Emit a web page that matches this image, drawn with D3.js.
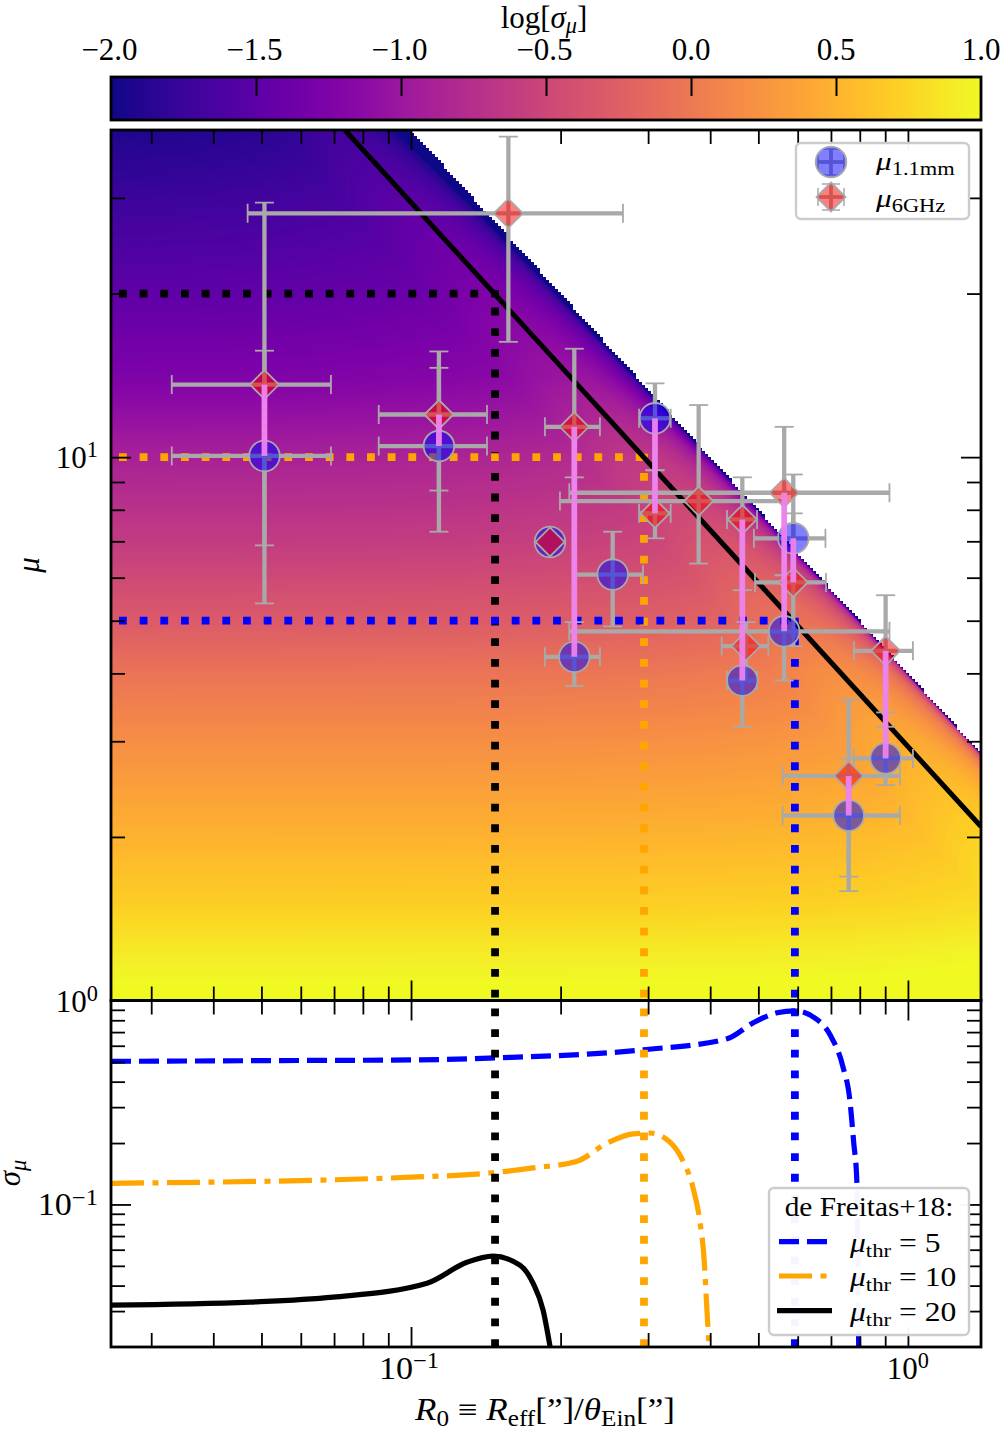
<!DOCTYPE html>
<html>
<head>
  <meta charset="utf-8">
  <title>Magnification and its scatter against source size</title>
  <script src="https://d3js.org/d3.v7.min.js"></script>
  <style>
    body { margin: 0; background: #fff; }
    text { font-family: "Liberation Serif", serif; fill: #000; }
  </style>
</head>
<body>
  <svg width="1000" height="1432"></svg>
  <script>
    // 1.1mm points
    const mmR0   = [0.0507, 0.1138, 0.1904, 0.2131, 0.2546, 0.3097, 0.4642, 0.5636, 0.5878, 0.7600, 0.9018];
    const mmR0Lo = [0.0330, 0.0861, null,   0.1860, 0.2131, 0.2877, 0.4323, 0.2082, 0.4898, 0.5596, 0.7786];
    const mmR0Hi = [0.0690, 0.1422, null,   0.2400, 0.2930, 0.3331, 0.4969, 0.9180, 0.6823, 0.9636, 1.0235];
    const mmMu   = [10.05, 10.48, 6.98, 4.29, 6.08, 11.79, 3.88, 4.78, 7.09, 2.19, 2.79];
    const mmMuLo = [6.88, 8.68, null, 3.79, 4.88, 9.46, 3.19, 3.88, 5.90, 1.59, 2.49];
    const mmMuHi = [15.7, 14.6, null, 9.18, 7.29, 13.67, 4.49, 6.06, 9.29, 2.79, 3.39];

    // 6GHz points
    const ghzR0   = [0.0507, 0.1138, 0.1570, 0.1904, 0.2131, 0.3097, 0.3792, 0.4642, 0.4721, 0.5636, 0.5878, 0.7600, 0.9018];
    const ghzR0Lo = [0.0330, 0.0861, 0.0469, null,   0.1860, 0.2877, 0.1994, 0.4323, 0.4218, 0.2082, 0.4923, 0.5596, 0.7786];
    const ghzR0Hi = [0.0690, 0.1422, 0.2670, null,   0.2400, 0.3331, 0.5655, 0.4969, 0.5236, 0.9180, 0.6840, 0.9636, 1.0235];
    const ghzMu   = [13.6, 11.98, 28.1, 6.98, 11.37, 7.88, 8.30, 7.68, 4.49, 8.60, 5.88, 2.59, 4.40];
    const ghzMuLo = [5.38, 7.29, 16.3, null, 4.97, 7.09, 6.37, 5.69, 3.88, 6.06, 4.49, 1.69, 3.19];
    const ghzMuHi = [29.4, 15.65, 38.9, null, 15.83, 9.46, 12.47, 9.18, 4.97, 11.37, 7.88, 3.58, 5.57];

    // de Freitas+18 curves, sigma against R0
    const thr5R0  = [0.0249, 0.0598, 0.1, 0.1476, 0.293, 0.4325, 0.488, 0.545, 0.593, 0.644, 0.697, 0.740, 0.764, 0.778, 0.789, 0.796];
    const thr5Sig = [0.503, 0.508, 0.511, 0.523, 0.573, 0.649, 0.777, 0.870, 0.890, 0.832, 0.679, 0.473, 0.325, 0.200, 0.132, 0.02];
    const thr10R0  = [0.0249, 0.1, 0.144, 0.176, 0.216, 0.248, 0.280, 0.303, 0.332, 0.352, 0.369, 0.381, 0.389, 0.394, 0.398];
    const thr10Sig = [0.127, 0.136, 0.1426, 0.151, 0.163, 0.200, 0.222, 0.224, 0.202, 0.165, 0.122, 0.0838, 0.0533, 0.0303, 0.02];
    const thr20R0  = [0.0249, 0.0474, 0.0697, 0.1077, 0.1296, 0.1462, 0.1656, 0.176, 0.1844, 0.1905];
    const thr20Sig = [0.0321, 0.0332, 0.0351, 0.0411, 0.0521, 0.0558, 0.0504, 0.0411, 0.0303, 0.02];

    // dotted guides: threshold mu and the R0 where its sigma peaks
    const dropMu = [20, 10, 5];
    const dropR0 = [0.1476, 0.2943, 0.5923];
    const dropColor = ["#000000", "#ffa500", "#0000ff"];

    // solid black line in the top panel
    const peakR0 = [0.0736, 1.403];
    const peakMu = [40, 2.09];

    // heat map lookup: log sigma at small R0 per mu, then an offset along u = mu * R0
    const baseMu  = [1, 1.25, 1.5, 2, 3, 4, 5, 7, 10, 14, 20, 30, 40];
    const baseLog = [1.05, 0.88, 0.70, 0.49, 0.19, -0.05, -0.30, -0.62, -0.895, -1.25, -1.494, -1.76, -1.95];
    const bumpU   = [0.02, 0.5, 1.0, 1.44, 1.76, 2.16, 2.46, 2.75, 2.97, 3.25, 3.5, 3.7, 3.82, 3.89, 3.945, 3.97, 3.985, 4.0];
    const bumpOff = [0, 0.007, 0.025, 0.05, 0.074, 0.108, 0.193, 0.238, 0.247, 0.21, 0.12, -0.025, -0.19, -0.39, -0.65, -1.1, -1.7, -3];

    // tick lists
    const xMinor = [0.03, 0.04, 0.05, 0.06, 0.07, 0.08, 0.09, 0.2, 0.3, 0.4, 0.5, 0.6, 0.7, 0.8, 0.9];
    const xMajor = [0.1, 1];
    const muMinor = [2, 3, 4, 5, 6, 7, 8, 9, 20, 30];
    const sigMinor = [0.03, 0.04, 0.05, 0.06, 0.07, 0.08, 0.09, 0.2, 0.3, 0.4, 0.5, 0.6, 0.7, 0.8, 0.9];
    const cbTicks = [-2, -1.5, -1, -0.5, 0, 0.5, 1];

    const svg = d3.select("svg");
    const L = 111, R = 981;
    const cbTop = 77, cbBot = 120, topY = 130, midY = 1000.5, botY = 1347;

    const x = d3.scaleLog().domain([0.0249, 1.403]).range([L, R]);
    const y = d3.scaleLog().domain([1, 40]).range([midY, topY]);
    const ySig = d3.scaleLog().domain([0.02, 1]).range([botY, midY]);
    const cb = d3.scaleLinear().domain([-2, 1]).range([L, R]);

    const defs = svg.append("defs");
    defs.append("clipPath").attr("id", "clipTop").append("rect")
      .attr("x", L).attr("y", topY).attr("width", R - L).attr("height", midY - topY);
    defs.append("clipPath").attr("id", "clipBot").append("rect")
      .attr("x", L).attr("y", midY).attr("width", R - L).attr("height", botY - midY);

    // text with italics, subscripts and superscripts as tspans
    // parts: [text, style] where style is "i", "s" (subscript), "si", "^" or nothing
    // sx stretches the glyphs sideways, the serif is narrower than the original type
    function math(g, px, py, size, parts, opts) {
      const o = opts || {};
      const t = g.append("text")
        .attr("font-size", size)
        .attr("text-anchor", o.anchor || "middle")
        .attr("transform", `translate(${px},${py})` + (o.rotate ? " rotate(-90)" : "") + ` scale(${o.sx || 1},1)`);
      let shift = 0;
      parts.forEach(p => {
        const style = p[1] || "";
        const sub = style.includes("s"), sup = style.includes("^");
        const target = sub ? size * 0.18 : sup ? -size * 0.35 : 0;
        t.append("tspan")
          .attr("dy", target - shift)
          .attr("font-size", sub || sup ? size * 0.72 : size)
          .attr("font-style", style.includes("i") ? "italic" : "normal")
          .text(p[0]);
        shift = target;
      });
      return t;
    }

    // colour bar
    const grad = defs.append("linearGradient").attr("id", "plasma");
    d3.range(0, 1.001, 0.02).forEach(t => {
      grad.append("stop").attr("offset", t).attr("stop-color", d3.interpolatePlasma(t));
    });
    svg.append("rect").attr("x", L).attr("y", cbTop).attr("width", R - L).attr("height", cbBot - cbTop)
      .attr("fill", "url(#plasma)");
    svg.append("g").attr("transform", `translate(0,${cbTop})`)
      .call(d3.axisTop(cb).tickValues(cbTicks.slice(1, -1)).tickSize(-19).tickFormat(""))
      .call(g => g.select(".domain").remove())
      .call(g => g.selectAll("line").attr("stroke-width", 2));
    svg.append("rect").attr("x", L).attr("y", cbTop).attr("width", R - L).attr("height", cbBot - cbTop)
      .attr("fill", "none").attr("stroke", "#000").attr("stroke-width", 2.8);
    cbTicks.forEach(t => {
      // the minus of the original is wider, a thin space stands in for the difference
      const label = d3.format(".1f")(t).replace("-", "\u2212\u2009");
      math(svg, cb(t) - (t < 0 ? 1.5 : 0), 60, 31, [[label]]);
    });
    math(svg, 544, 27.7, 31, [["log["], ["\u03C3", "i"], ["\u03BC", "si"], ["]"]]);

    // heat map: one canvas pixel per screen pixel, edge snapped to the mesh of the original
    const logMu = d3.scaleLinear().domain(baseMu.map(Math.log10)).range(baseLog);
    const off = d3.scaleLinear().domain(bumpU).range(bumpOff).clamp(true);
    const W = R - L, H = Math.round(midY - topY);
    const canvas = document.createElement("canvas");
    canvas.width = W; canvas.height = H;
    const ctx = canvas.getContext("2d");
    const img = ctx.createImageData(W, H);
    for (let j = 0; j < H; j++) {
      for (let i = 0; i < W; i++) {
        const r = x.invert(L + i + 0.5), m = y.invert(topY + j + 0.5);
        const rs = x.invert(L + Math.floor(i / 3) * 3 + 1.5), ms = y.invert(topY + Math.floor(j / 3) * 3 + 1.5);
        if (rs * ms > 4) continue;
        const v = logMu(Math.log10(m)) + off(Math.min(r * m, 4));
        const c = d3.rgb(d3.interpolatePlasma(Math.max(0, Math.min(1, (v + 2) / 3))));
        const k = (j * W + i) * 4;
        img.data[k] = c.r; img.data[k + 1] = c.g; img.data[k + 2] = c.b; img.data[k + 3] = 255;
      }
    }
    ctx.putImageData(img, 0, 0);
    svg.append("image").attr("x", L).attr("y", topY).attr("width", W).attr("height", H)
      .attr("href", canvas.toDataURL());

    const dash = "7.8 12.87";
    const upper = svg.append("g").attr("clip-path", "url(#clipTop)");
    const lower = svg.append("g").attr("clip-path", "url(#clipBot)");

    // dotted guides, top panel
    dropMu.forEach((m, k) => {
      upper.append("line").attr("x1", L).attr("x2", x(dropR0[k])).attr("y1", y(m)).attr("y2", y(m))
        .attr("stroke", dropColor[k]).attr("stroke-width", 7.8)
        .attr("stroke-dasharray", dash).attr("stroke-dashoffset", 12.67);
      upper.append("line").attr("x1", x(dropR0[k])).attr("x2", x(dropR0[k])).attr("y1", y(1)).attr("y2", y(m) - 3.5)
        .attr("stroke", dropColor[k]).attr("stroke-width", 7.8)
        .attr("stroke-dasharray", dash).attr("stroke-dashoffset", 17.67);
    });

    // black line
    upper.append("line").attr("x1", x(peakR0[0])).attr("y1", y(peakMu[0]))
      .attr("x2", x(peakR0[1])).attr("y2", y(peakMu[1]))
      .attr("stroke", "#000").attr("stroke-width", 5);

    // error bars
    const gray = "#a9a9a9";
    function errorBars(g, rs, rLo, rHi, ms, mLo, mHi) {
      rs.forEach((r, k) => {
        if (rLo[k] === null) return;
        const px = x(r), py = y(ms[k]);
        g.append("line").attr("x1", x(rLo[k])).attr("x2", x(rHi[k])).attr("y1", py).attr("y2", py)
          .attr("stroke", gray).attr("stroke-width", 4.3);
        g.append("line").attr("x1", px).attr("x2", px).attr("y1", y(mLo[k])).attr("y2", y(mHi[k]))
          .attr("stroke", gray).attr("stroke-width", 4.3);
        [rLo[k], rHi[k]].forEach(e => {
          g.append("line").attr("x1", x(e)).attr("x2", x(e)).attr("y1", py - 9.5).attr("y2", py + 9.5)
            .attr("stroke", gray).attr("stroke-width", 1.8);
        });
        [mLo[k], mHi[k]].forEach(e => {
          g.append("line").attr("x1", px - 9.5).attr("x2", px + 9.5).attr("y1", y(e)).attr("y2", y(e))
            .attr("stroke", gray).attr("stroke-width", 1.8);
        });
      });
    }
    errorBars(upper, mmR0, mmR0Lo, mmR0Hi, mmMu, mmMuLo, mmMuHi);
    errorBars(upper, ghzR0, ghzR0Lo, ghzR0Hi, ghzMu, ghzMuLo, ghzMuHi);

    // markers
    const diamond = "M0,-14.5L14.5,0L0,14.5L-14.5,0Z";
    function circleMark(g, px, py) {
      g.append("circle").attr("cx", px).attr("cy", py).attr("r", 15.3)
        .attr("fill", "rgba(0,0,255,0.5)").attr("stroke", gray).attr("stroke-width", 1.8);
    }
    function diamondMark(g, px, py) {
      g.append("path").attr("d", diamond).attr("transform", `translate(${px},${py})`)
        .attr("fill", "rgba(255,0,0,0.5)").attr("stroke", gray).attr("stroke-width", 1.8);
    }
    mmR0.forEach((r, k) => circleMark(upper, x(r), y(mmMu[k])));
    ghzR0.forEach((r, k) => diamondMark(upper, x(r), y(ghzMu[k])));

    // violet links between the two bands of one source
    mmR0.forEach((r, k) => {
      const g = ghzR0.indexOf(r);
      if (g < 0) return;
      upper.append("line").attr("x1", x(r)).attr("x2", x(r)).attr("y1", y(ghzMu[g])).attr("y2", y(mmMu[k]))
        .attr("stroke", "#ee82ee").attr("stroke-opacity", 0.95).attr("stroke-width", 5.8);
    });

    // lower panel curves
    const curve = d3.line().x(d => x(d[0])).y(d => ySig(d[1])).curve(d3.curveMonotoneX);
    const styles = [
      { r: thr5R0, s: thr5Sig, c: "#0000ff", d: "20 8" },
      { r: thr10R0, s: thr10Sig, c: "#ffa500", d: "33 8.5 6 8.5" },
      { r: thr20R0, s: thr20Sig, c: "#000000", d: null }
    ];
    styles.forEach(o => {
      lower.append("path").attr("d", curve(o.r.map((v, i) => [v, o.s[i]])))
        .attr("fill", "none").attr("stroke", o.c).attr("stroke-width", 5.2)
        .attr("stroke-dasharray", o.d);
    });
    dropMu.forEach((m, k) => {
      lower.append("line").attr("x1", x(dropR0[k])).attr("x2", x(dropR0[k])).attr("y1", botY).attr("y2", midY)
        .attr("stroke", dropColor[k]).attr("stroke-width", 7.8).attr("stroke-dasharray", dash);
    });

    // axes and frames
    function ticks(axis, scale, pos, values, len) {
      svg.append("g").attr("transform", pos)
        .call(axis(scale).tickValues(values).tickSize(-len).tickFormat(""))
        .call(g => g.select(".domain").remove())
        .call(g => g.selectAll("line").attr("stroke-width", 1.8).attr("stroke", "#000"));
    }
    [[topY, midY, y, muMinor, [10]], [midY, botY, ySig, sigMinor, [0.1]]].forEach(p => {
      ticks(d3.axisTop, x, `translate(0,${p[0]})`, xMinor, 14);
      ticks(d3.axisTop, x, `translate(0,${p[0]})`, xMajor, 20);
      ticks(d3.axisBottom, x, `translate(0,${p[1]})`, xMinor, 14);
      ticks(d3.axisBottom, x, `translate(0,${p[1]})`, xMajor, 20);
      ticks(d3.axisLeft, p[2], `translate(${L},0)`, p[3], 14);
      ticks(d3.axisLeft, p[2], `translate(${L},0)`, p[4], 20);
      ticks(d3.axisRight, p[2], `translate(${R},0)`, p[3], 14);
      ticks(d3.axisRight, p[2], `translate(${R},0)`, p[4], 20);
      svg.append("rect").attr("x", L).attr("y", p[0]).attr("width", R - L).attr("height", p[1] - p[0])
        .attr("fill", "none").attr("stroke", "#000").attr("stroke-width", 2.8);
    });

    // tick labels, powers of ten
    math(svg, 98, y(10) + 11, 31, [["10"], ["1", "^"]], { anchor: "end" });
    math(svg, 98, y(1) + 11.5, 31, [["10"], ["0", "^"]], { anchor: "end" });
    math(svg, 98, ySig(0.1) + 11, 31, [["10"], ["\u22121", "^"]], { anchor: "end", sx: 1.1 });
    math(svg, x(0.1) - 2, 1379, 31, [["10"], ["\u22121", "^"]], { sx: 1.1 });
    math(svg, x(1), 1379, 31, [["10"], ["0", "^"]]);

    // axis labels
    math(svg, 39, 565, 31, [["\u03BC", "i"]], { rotate: true });
    math(svg, 20, 1173, 31, [["\u03C3", "i"], ["\u03BC", "si"]], { rotate: true });
    math(svg, 545, 1420, 31, [["R", "i"], ["0", "s"], [" \u2261 "], ["R", "i"], ["eff", "s"], ["[\u201D]/"], ["\u03B8", "i"], ["Ein", "s"], ["[\u201D]"]], { sx: 1.13 });

    // legend, markers
    const legendFill = "rgba(255,255,255,0.96)";
    const leg1 = svg.append("g");
    leg1.append("rect").attr("x", 796).attr("y", 143).attr("width", 173).attr("height", 76).attr("rx", 5)
      .attr("fill", legendFill).attr("stroke", "#cccccc").attr("stroke-width", 2.4);
    [[831, 162], [831, 197]].forEach(p => {
      leg1.append("line").attr("x1", p[0] - 13).attr("x2", p[0] + 13).attr("y1", p[1]).attr("y2", p[1]).attr("stroke", gray).attr("stroke-width", 3.8);
      leg1.append("line").attr("x1", p[0]).attr("x2", p[0]).attr("y1", p[1] - 13).attr("y2", p[1] + 13).attr("stroke", gray).attr("stroke-width", 3.8);
      [-13, 13].forEach(d => {
        leg1.append("line").attr("x1", p[0] + d).attr("x2", p[0] + d).attr("y1", p[1] - 9).attr("y2", p[1] + 9).attr("stroke", gray).attr("stroke-width", 1.5);
        leg1.append("line").attr("x1", p[0] - 9).attr("x2", p[0] + 9).attr("y1", p[1] + d).attr("y2", p[1] + d).attr("stroke", gray).attr("stroke-width", 1.5);
      });
    });
    circleMark(leg1, 831, 162);
    diamondMark(leg1, 831, 197);
    math(leg1, 876, 170, 26, [["\u03BC", "i"], ["1.1mm", "s"]], { anchor: "start", sx: 1.2 });
    math(leg1, 876, 207, 26, [["\u03BC", "i"], ["6GHz", "s"]], { anchor: "start", sx: 1.2 });

    // legend, curves
    const leg2 = svg.append("g");
    leg2.append("rect").attr("x", 769).attr("y", 1188).attr("width", 200).attr("height", 147).attr("rx", 5)
      .attr("fill", legendFill).attr("stroke", "#cccccc").attr("stroke-width", 2.4);
    math(leg2, 869, 1216, 27, [["de Freitas+18:"]], { sx: 1.085 });
    const legLabels = ["5", "10", "20"];
    const legY = [1241.7, 1276, 1310.7];
    styles.forEach((o, k) => {
      leg2.append("line").attr("x1", k === 2 ? 777 : 779).attr("x2", k === 2 ? 832 : 827).attr("y1", legY[k]).attr("y2", legY[k])
        .attr("stroke", o.c).attr("stroke-width", 5.2).attr("stroke-dasharray", o.d);
      math(leg2, 850, legY[k] + 10, 27, [["\u03BC", "i"], ["thr", "s"], [" = " + legLabels[k]]], { anchor: "start", sx: 1.17 });
    });
  </script>
</body>
</html>
